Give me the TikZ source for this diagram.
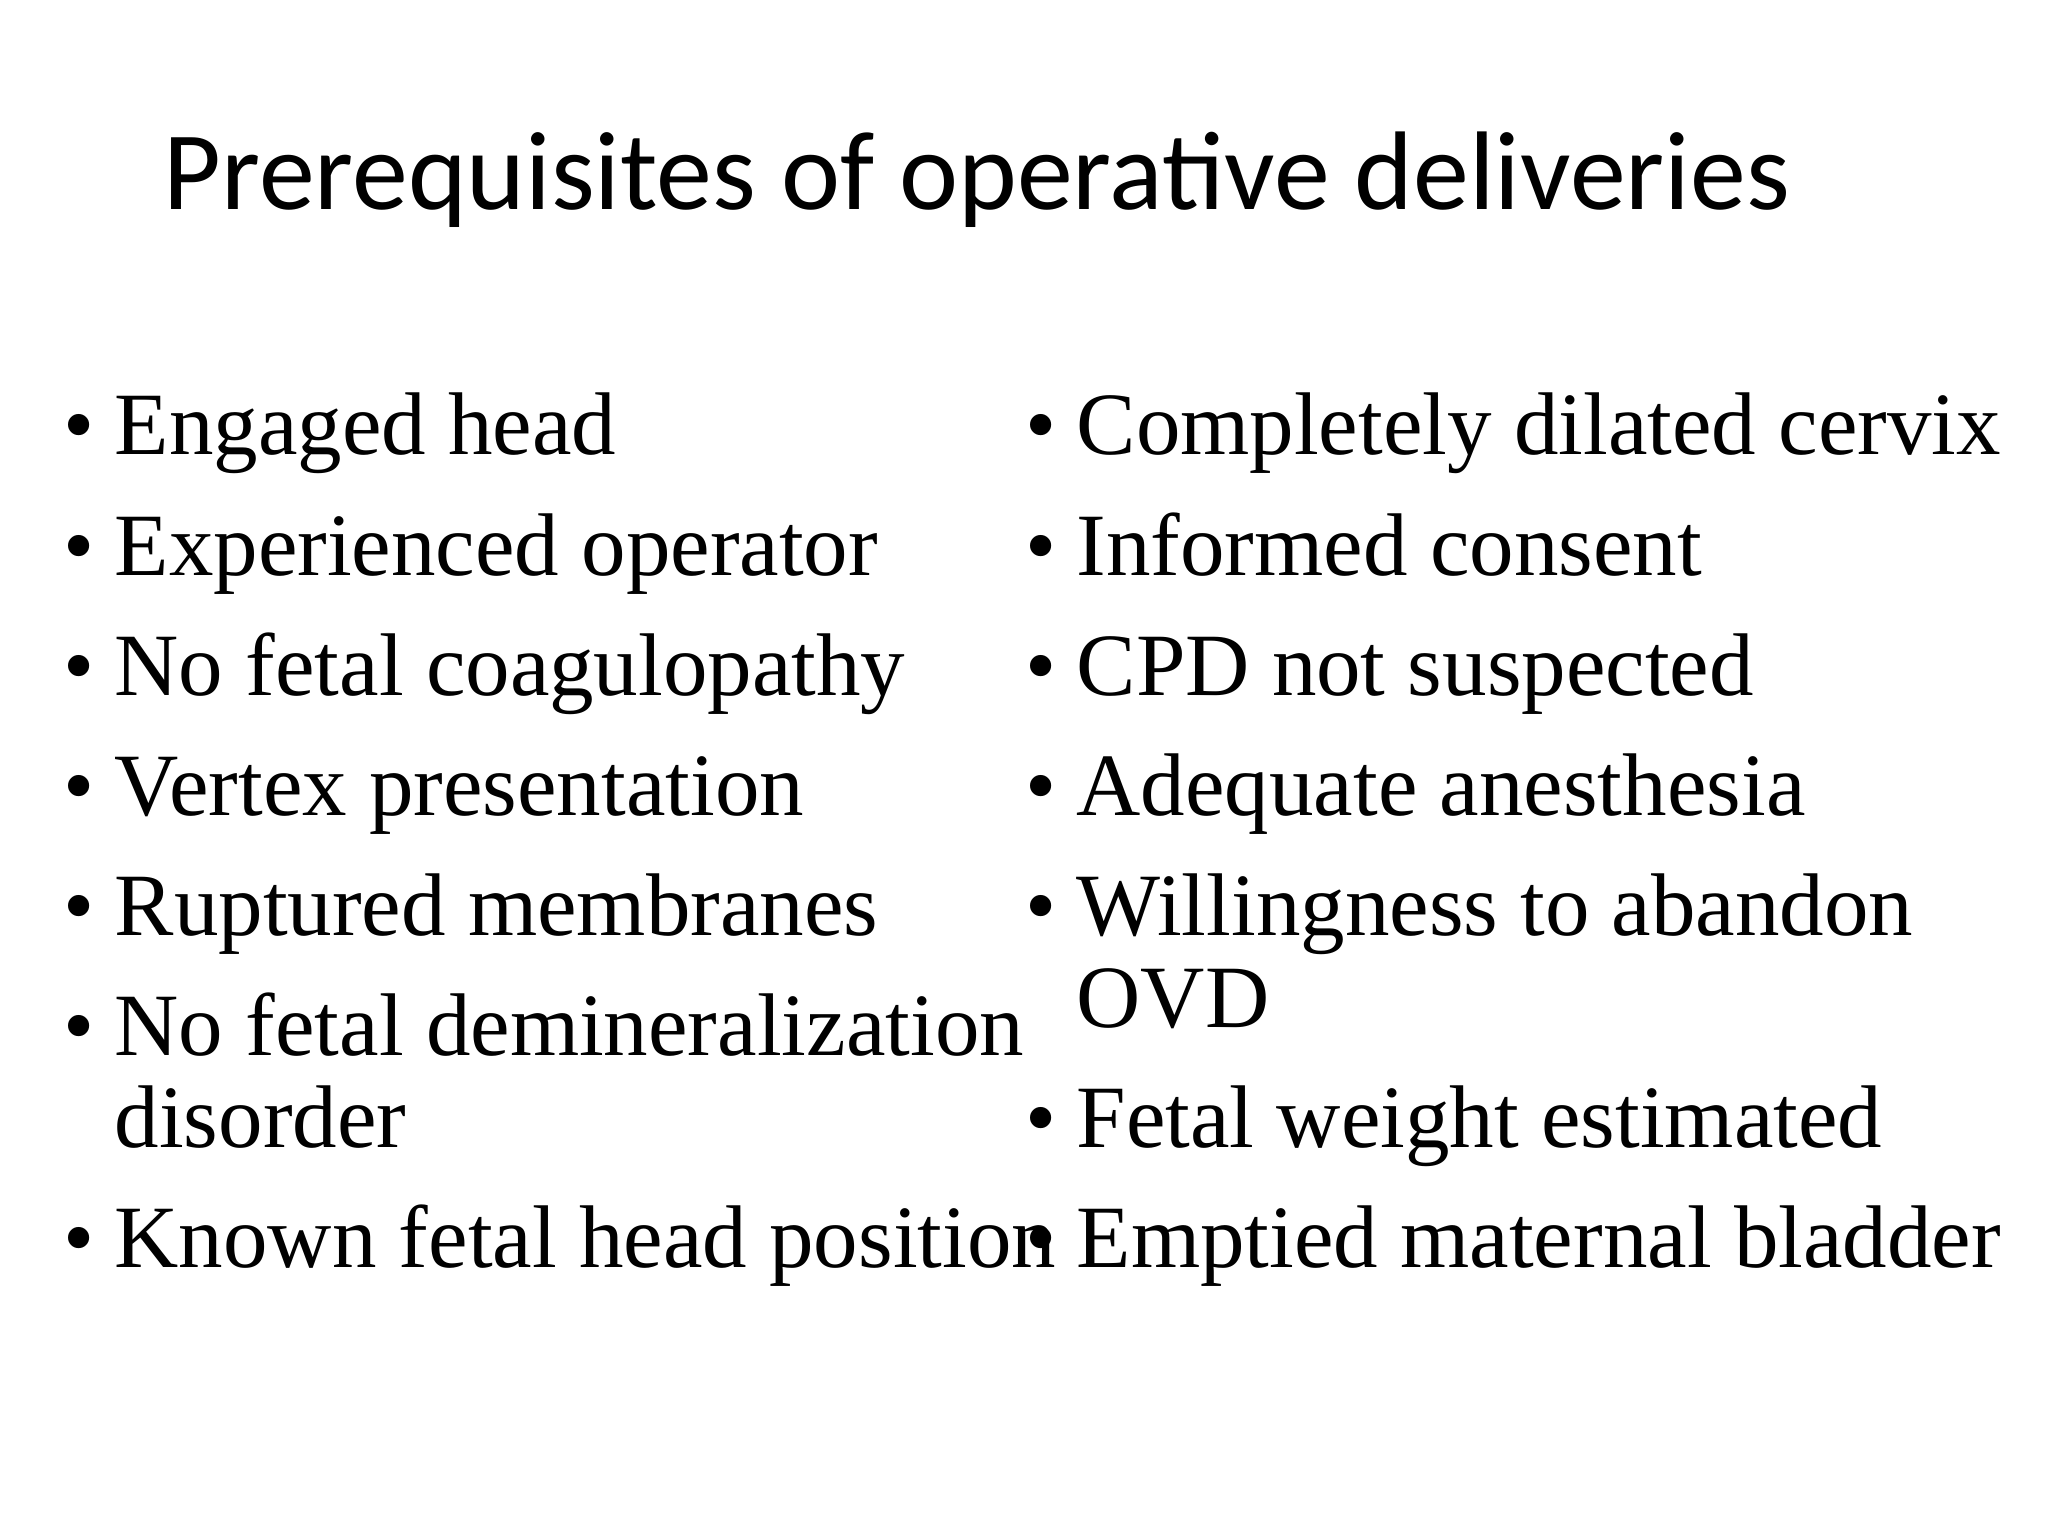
\documentclass[tikz,border=0pt]{standalone}
\usepackage{fontspec}
\setmainfont{Liberation Serif}
\newfontfamily\titlefont{Carlito}
\begin{document}
\begin{tikzpicture}[x=0.01cm,y=-0.01cm,
  txt/.style={anchor=base west,inner sep=0pt,font=\fontsize{25.3}{30}\selectfont},
  bul/.style={anchor=base west,inner sep=0pt,font=\fontsize{25.3}{30}\selectfont}]
\useasboundingbox (0,0) rectangle (2048,1536);
\node[anchor=base west,inner sep=0pt,font=\titlefont\fontsize{31.8}{36}\selectfont] (title) at (163,209) {Prerequisites of operative deliveries};
\foreach \y/\t [count=\i] in {454/Engaged head,575/Experienced operator,695/No fetal coagulopathy,815/Vertex presentation,935/Ruptured membranes,1055/No fetal demineralization,1267/Known fetal head position}{
  \node[bul] (lb\i) at (63,\y) {•};
  \node[txt] (l\i) at (114,\y) {\t};
}
\node[txt] (l6b) at (114,1147) {disorder};
\foreach \y/\t [count=\i] in {454/Completely dilated cervix,575/Informed consent,695/CPD not suspected,815/Adequate anesthesia,935/Willingness to abandon,1147/Fetal weight estimated,1267/Emptied maternal bladder}{
  \node[bul] (rb\i) at (1025,\y) {•};
  \node[txt] (r\i) at (1076,\y) {\t};
}
\node[txt] (r5b) at (1076,1027) {OVD};
\end{tikzpicture}
\end{document}
